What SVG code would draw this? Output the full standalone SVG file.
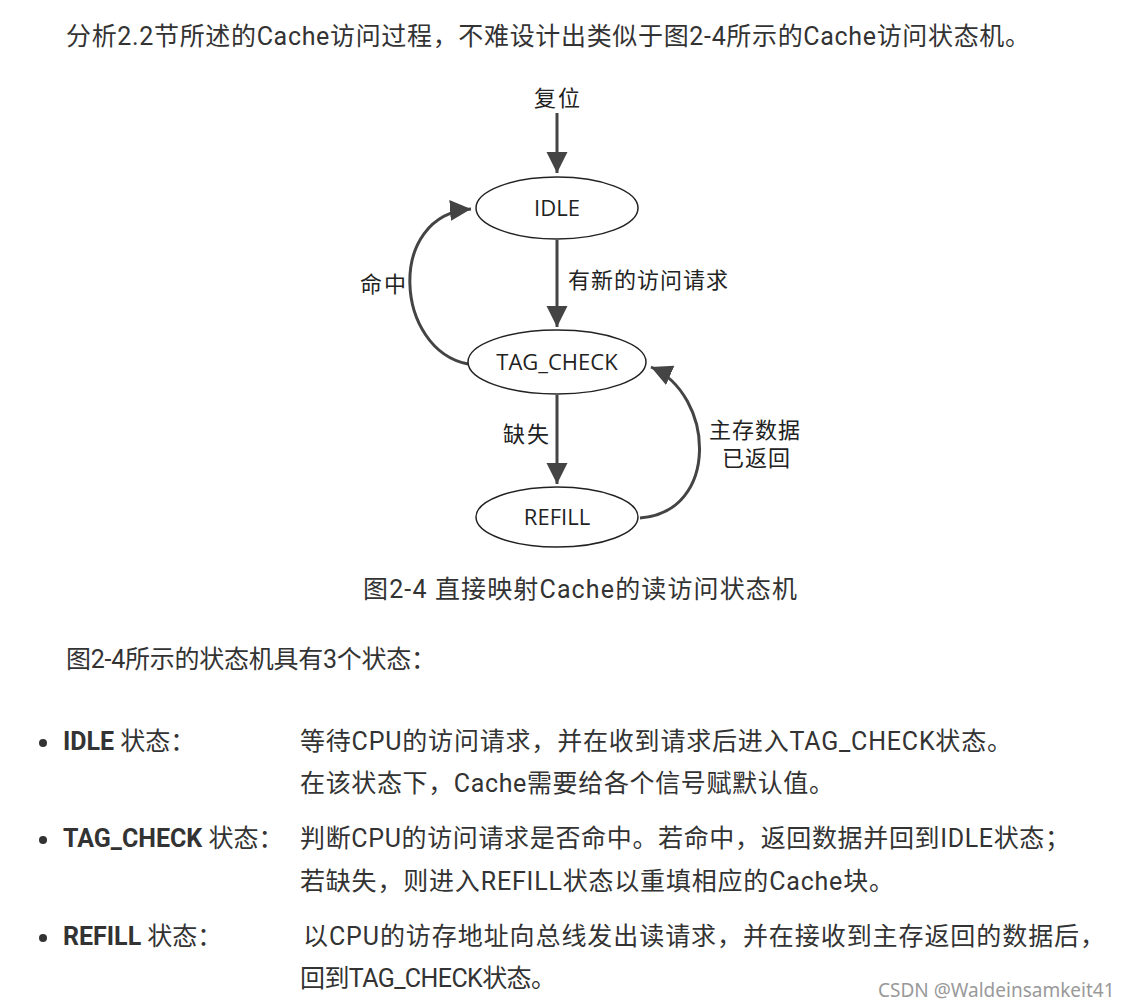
<svg xmlns="http://www.w3.org/2000/svg" width="1128" height="1007" viewBox="0 0 1128 1007">
<style>
.t{font-family:Roboto,"Noto Sans CJK SC",sans-serif;font-size:25px;fill:#333}
.b{font-weight:bold}
.d{font-family:"Open Sans","Noto Sans CJK SC",sans-serif;font-size:22px;fill:#222}
.n{fill:#fff;stroke:#222;stroke-width:1.5}
.c{fill:none;stroke:#444;stroke-width:3}
</style>
<defs><marker id="a" markerWidth="8" markerHeight="8" refX="7" refY="4" orient="auto" markerUnits="strokeWidth"><path d="M0,0.5 L7,4 L0,7.5 Z" fill="#444"/></marker></defs>
<rect width="1128" height="1007" fill="#fff"/>
<text class="t" x="66" y="45" textLength="964">分析2.2节所述的Cache访问过程，不难设计出类似于图2-4所示的Cache访问状态机。</text>
<g id="connectors">
<path class="c" d="M557,113 V173" marker-end="url(#a)"/>
<path class="c" d="M557,240 V327" marker-end="url(#a)"/>
<path class="c" d="M557,395 V484" marker-end="url(#a)"/>
<path class="c" d="M468,364 C395,350 385,215 471,209" marker-end="url(#a)"/>
<path class="c" d="M640,518 C720,512 715,395 651,367" marker-end="url(#a)"/>
<text class="d" x="557" y="106" text-anchor="middle" textLength="46">复位</text>
<text class="d" x="568" y="288" textLength="160">有新的访问请求</text>
<text class="d" x="360" y="292" textLength="46">命中</text>
<text class="d" x="503" y="442" textLength="46">缺失</text>
<text class="d" x="709" y="438" textLength="91">主存数据</text>
<text class="d" x="722" y="466" textLength="68">已返回</text>
</g>
<g id="idle"><ellipse class="n" cx="557" cy="208" rx="81" ry="31"/><text class="d" x="557" y="216" text-anchor="middle">IDLE</text></g>
<g id="tag_check"><ellipse class="n" cx="557" cy="362" rx="89" ry="32"/><text class="d" x="557" y="370" text-anchor="middle">TAG_CHECK</text></g>
<g id="refill"><ellipse class="n" cx="557" cy="517" rx="81" ry="30"/><text class="d" x="557" y="525" text-anchor="middle">REFILL</text></g>
<text class="t" x="363" y="598" textLength="434">图2-4 直接映射Cache的读访问状态机</text>
<text class="t" x="66" y="668" textLength="370">图2-4所示的状态机具有3个状态：</text>
<circle cx="43" cy="743" r="4" fill="#333"/><circle cx="43" cy="840" r="4" fill="#333"/><circle cx="43" cy="938" r="4" fill="#333"/>
<text class="t" x="63" y="750"><tspan class="b">IDLE</tspan> 状态：</text>
<text class="t" x="300" y="750" textLength="712">等待CPU的访问请求，并在收到请求后进入TAG_CHECK状态。</text>
<text class="t" x="300" y="792" textLength="534">在该状态下，Cache需要给各个信号赋默认值。</text>
<text class="t" x="63" y="847"><tspan class="b">TAG_CHECK</tspan> 状态：</text>
<text class="t" x="300" y="847" textLength="770">判断CPU的访问请求是否命中。若命中，返回数据并回到IDLE状态；</text>
<text class="t" x="300" y="890" textLength="594">若缺失，则进入REFILL状态以重填相应的Cache块。</text>
<text class="t" x="63" y="945"><tspan class="b">REFILL</tspan> 状态：</text>
<text class="t" x="303" y="945" textLength="802">以CPU的访存地址向总线发出读请求，并在接收到主存返回的数据后，</text>
<text class="t" x="300" y="987" textLength="256">回到TAG_CHECK状态。</text>
<text x="878" y="997" style="font-family:'Noto Sans',sans-serif;font-size:19px;fill:#999">CSDN @Waldeinsamkeit41</text>
</svg>
